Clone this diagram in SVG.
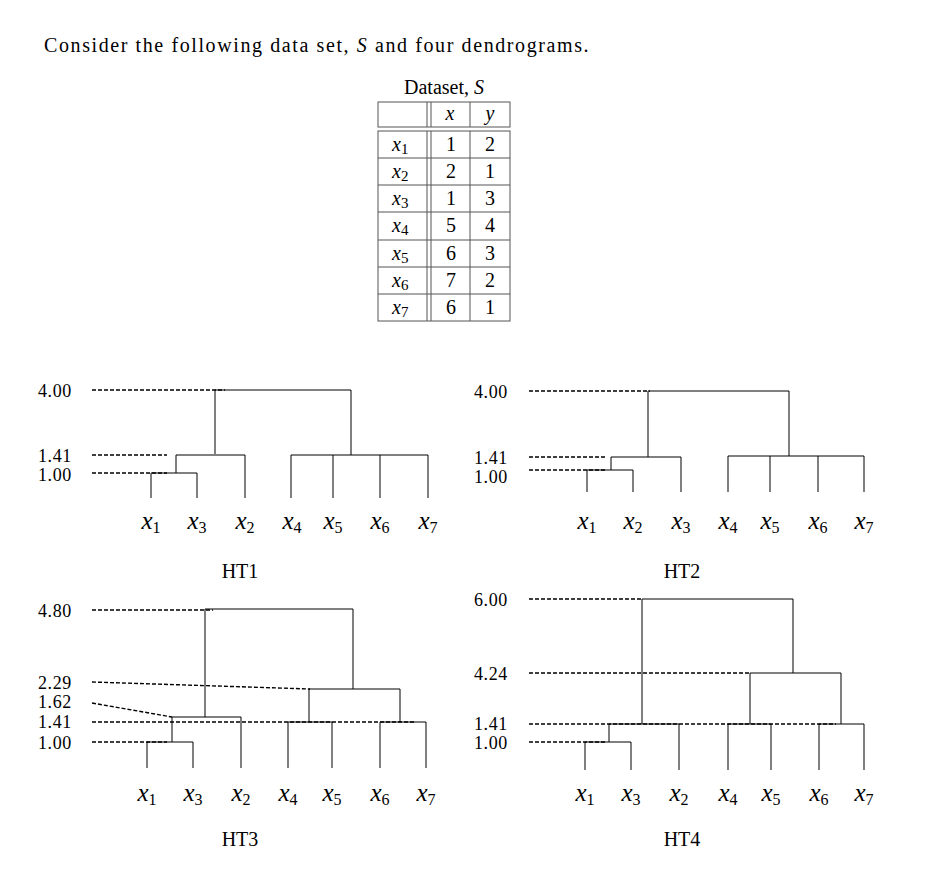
<svg xmlns="http://www.w3.org/2000/svg" width="930" height="886" viewBox="0 0 930 886">
<style>
text{font-family:"Liberation Serif","DejaVu Serif",serif;fill:#000}
.t{font-size:20px}
.tt{font-size:20px;letter-spacing:1.6px}
.n{font-size:18px;letter-spacing:0.6px}
.v{font-size:25px;font-style:italic}
.s{font-size:16px;font-style:normal}
.ts{font-size:15px;font-style:normal}
.c{text-anchor:middle}
.l{stroke:#000;stroke-width:1;fill:none}
.d{stroke:#000;stroke-width:1.4;stroke-dasharray:4,2;fill:none}
.tb{stroke:#555;stroke-width:1;fill:none}
</style>
<rect width="930" height="886" fill="#fff"/>
<text class="tt" x="44" y="52">Consider the following data set, <tspan font-style="italic">S</tspan> and four dendrograms.</text>

<g id="table">
<text class="t c" x="444" y="94">Dataset, <tspan font-style="italic">S</tspan></text>
<rect class="tb" x="378" y="102" width="132" height="25"/>
<rect class="tb" x="378" y="131" width="132" height="190"/>
<path class="tb" d="M427,102V127M431,102V127M470,102V127M427,131V321M431,131V321M470,131V321M378,158H510M378,185H510M378,212H510M378,240H510M378,267H510M378,294H510"/>
<text class="t c" font-style="italic" x="450" y="120">x</text>
<text class="t c" font-style="italic" x="490" y="120">y</text>
<g class="t">
<text x="392" y="151" font-style="italic">x<tspan class="ts" dy="3">1</tspan></text><text class="c" x="451" y="151">1</text><text class="c" x="490" y="151">2</text>
<text x="392" y="178" font-style="italic">x<tspan class="ts" dy="3">2</tspan></text><text class="c" x="451" y="178">2</text><text class="c" x="490" y="178">1</text>
<text x="392" y="205" font-style="italic">x<tspan class="ts" dy="3">3</tspan></text><text class="c" x="451" y="205">1</text><text class="c" x="490" y="205">3</text>
<text x="392" y="232" font-style="italic">x<tspan class="ts" dy="3">4</tspan></text><text class="c" x="451" y="232">5</text><text class="c" x="490" y="232">4</text>
<text x="392" y="260" font-style="italic">x<tspan class="ts" dy="3">5</tspan></text><text class="c" x="451" y="260">6</text><text class="c" x="490" y="260">3</text>
<text x="392" y="287" font-style="italic">x<tspan class="ts" dy="3">6</tspan></text><text class="c" x="451" y="287">7</text><text class="c" x="490" y="287">2</text>
<text x="392" y="314" font-style="italic">x<tspan class="ts" dy="3">7</tspan></text><text class="c" x="451" y="314">6</text><text class="c" x="490" y="314">1</text>
</g>
</g>

<g id="HT1">
<text class="n" x="38" y="397">4.00</text><text class="n" x="38" y="462">1.41</text><text class="n" x="38" y="481">1.00</text>
<path class="d" d="M92,390H225M92,455H167M92,473H167"/>
<path class="l" d="M215,454V390H351V455M151,498V473H197V498M176,473V455H245V498M291,498V455H428V498M333,455V498M380,455V498"/>
<g class="v c"><text x="151" y="529">x<tspan class="s" dy="4">1</tspan></text><text x="197" y="529">x<tspan class="s" dy="4">3</tspan></text><text x="245" y="529">x<tspan class="s" dy="4">2</tspan></text><text x="292" y="529">x<tspan class="s" dy="4">4</tspan></text><text x="333" y="529">x<tspan class="s" dy="4">5</tspan></text><text x="380" y="529">x<tspan class="s" dy="4">6</tspan></text><text x="428" y="529">x<tspan class="s" dy="4">7</tspan></text></g>
<text class="t c" x="240" y="578">HT1</text>
</g>

<g id="HT2">
<text class="n" x="474" y="398">4.00</text><text class="n" x="474" y="464">1.41</text><text class="n" x="474" y="483">1.00</text>
<path class="d" d="M529,391H650M529,457H605M529,470H605"/>
<path class="l" d="M648,457V391H789V456M587,492V470H633V492M611,470V457H681V492M728,492V456H864V492M770,456V492M818,456V492"/>
<g class="v c"><text x="587" y="529">x<tspan class="s" dy="4">1</tspan></text><text x="633" y="529">x<tspan class="s" dy="4">2</tspan></text><text x="681" y="529">x<tspan class="s" dy="4">3</tspan></text><text x="728" y="529">x<tspan class="s" dy="4">4</tspan></text><text x="770" y="529">x<tspan class="s" dy="4">5</tspan></text><text x="818" y="529">x<tspan class="s" dy="4">6</tspan></text><text x="864" y="529">x<tspan class="s" dy="4">7</tspan></text></g>
<text class="t c" x="682" y="578">HT2</text>
</g>

<g id="HT3">
<text class="n" x="38" y="617">4.80</text><text class="n" x="38" y="689">2.29</text><text class="n" x="38" y="708">1.62</text><text class="n" x="38" y="728">1.41</text><text class="n" x="38" y="749">1.00</text>
<path class="d" d="M92,610H213M92,682L310,689M92,703L172,717M92,722H415M92,742H167"/>
<path class="l" d="M205,717V609H353V689M309,722V689H400V722M147,768V742H193V768M172,742V717H241V768M288,768V722H332V768M380,768V722H426V768"/>
<g class="v c"><text x="147" y="801">x<tspan class="s" dy="4">1</tspan></text><text x="193" y="801">x<tspan class="s" dy="4">3</tspan></text><text x="241" y="801">x<tspan class="s" dy="4">2</tspan></text><text x="288" y="801">x<tspan class="s" dy="4">4</tspan></text><text x="332" y="801">x<tspan class="s" dy="4">5</tspan></text><text x="380" y="801">x<tspan class="s" dy="4">6</tspan></text><text x="426" y="801">x<tspan class="s" dy="4">7</tspan></text></g>
<text class="t c" x="240" y="846">HT3</text>
</g>

<g id="HT4">
<text class="n" x="474" y="606">6.00</text><text class="n" x="474" y="680">4.24</text><text class="n" x="474" y="730">1.41</text><text class="n" x="474" y="749">1.00</text>
<path class="d" d="M529,599H642M529,673H750M529,724H836M529,742H605"/>
<path class="l" d="M642,724V599H793V673M750,724V673H841V724M585,770V742H631V770M609,742V724H679V770M728,770V724H771V770M819,770V724H864V770"/>
<g class="v c"><text x="585" y="801">x<tspan class="s" dy="4">1</tspan></text><text x="631" y="801">x<tspan class="s" dy="4">3</tspan></text><text x="679" y="801">x<tspan class="s" dy="4">2</tspan></text><text x="728" y="801">x<tspan class="s" dy="4">4</tspan></text><text x="771" y="801">x<tspan class="s" dy="4">5</tspan></text><text x="819" y="801">x<tspan class="s" dy="4">6</tspan></text><text x="864" y="801">x<tspan class="s" dy="4">7</tspan></text></g>
<text class="t c" x="682" y="846">HT4</text>
</g>
</svg>
